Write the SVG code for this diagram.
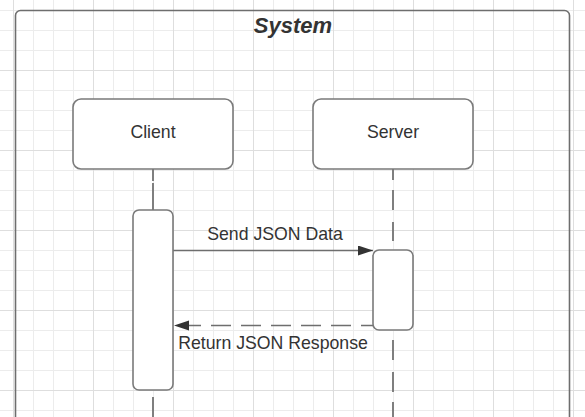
<svg xmlns="http://www.w3.org/2000/svg" width="585" height="417" viewBox="0 0 585 417">
  <style>
    .box { fill: #ffffff; stroke: #7a7a7a; stroke-width: 1.6; }
    .frame { fill: none; stroke: #6e6e6e; stroke-width: 1.6; }
    .life { fill: none; stroke: #7f7f7f; stroke-width: 2; }
    .msg { fill: none; stroke: #6e6e6e; stroke-width: 1.6; }
    .lbl { font-family: "Liberation Sans", Arial, sans-serif; font-size: 17.7px; fill: #333333; text-anchor: middle; }
    .title { font-family: "Liberation Sans", Arial, sans-serif; font-size: 22px; font-weight: bold; font-style: italic; fill: #333333; text-anchor: middle; }
  </style>
  <defs>
    <pattern id="minor" patternUnits="userSpaceOnUse" x="13" y="10" width="20" height="20">
      <path d="M0.5 0 V20 M0 0.5 H20" fill="none" stroke="#ececec" stroke-width="1"/>
    </pattern>
    <pattern id="major" patternUnits="userSpaceOnUse" x="13" y="70" width="80" height="80">
      <path d="M0.5 0 V80 M0 0.5 H80" fill="none" stroke="#dedede" stroke-width="1"/>
    </pattern>
    <marker id="arrow" markerUnits="userSpaceOnUse" markerWidth="16" markerHeight="11" refX="15" refY="5" orient="auto">
      <path d="M0,0 L15,5 L0,10 Z" fill="#333333"/>
    </marker>
  </defs>

  <rect x="0" y="0" width="585" height="417" fill="#ffffff"/>
  <rect x="0" y="0" width="585" height="417" fill="url(#minor)"/>
  <rect x="0" y="0" width="585" height="417" fill="url(#major)"/>

  <g id="frame-system">
    <rect class="frame" x="15.5" y="10.5" width="554" height="430" rx="5"/>
    <text class="title" x="293" y="33">System</text>
  </g>

  <g id="connectors">
    <path class="life" d="M153 169 V181 M153 183 V210 M153 397 V417"/>
    <path class="life" d="M393 169 V180 M393 190 V210 M393 222 V241 M393 340 V360 M393 372 V392 M393 402 V417"/>
    <line class="msg" x1="173" y1="250.5" x2="373" y2="250.5" marker-end="url(#arrow)"/>
    <line class="msg" x1="373" y1="325.5" x2="174" y2="325.5" stroke-dasharray="20 10" stroke-dashoffset="8" marker-end="url(#arrow)"/>
    <text class="lbl" x="275" y="240">Send JSON Data</text>
    <text class="lbl" x="273" y="349">Return JSON Response</text>
  </g>

  <g id="node-client">
    <rect class="box" x="73" y="99" width="160" height="70" rx="8"/>
    <text class="lbl" x="153" y="138">Client</text>
  </g>

  <g id="node-server">
    <rect class="box" x="313" y="99" width="160" height="70" rx="8"/>
    <text class="lbl" x="393" y="138">Server</text>
  </g>

  <g id="activation-client">
    <rect class="box" x="133" y="210" width="40" height="180" rx="6"/>
  </g>

  <g id="activation-server">
    <rect class="box" x="373" y="250" width="40" height="80" rx="6"/>
  </g>
</svg>
